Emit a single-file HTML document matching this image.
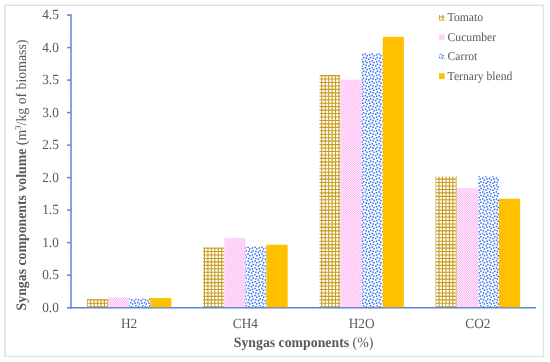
<!DOCTYPE html>
<html lang="en"><head><meta charset="utf-8"><title>Syngas components volume</title>
<style>
html,body{margin:0;padding:0;background:#fff;}
body{width:550px;height:362px;overflow:hidden;}
svg{display:block;}
text{font-family:"Liberation Serif","Times New Roman",serif;fill:#595959;text-rendering:geometricPrecision;}
.tk{font-size:13.3px;}
.lg{font-size:11.65px;}
.tt{font-size:13.8px;}
.b{font-weight:bold;}
</style></head><body>
<svg width="550" height="362" viewBox="0 0 550 362">
<rect x="0" y="0" width="550" height="362" fill="#fff"/>
<g fill="#E3E3E3"><rect x="4.05" y="4.6" width="1.9" height="352.55"/><rect x="4.05" y="4.6" width="539.95" height="1.4" fill="#E0E0E0"/><rect x="542.7" y="4.6" width="1.3" height="352.55"/><rect x="4.05" y="355.8" width="539.95" height="1.35" fill="#E1E1E1"/></g>
<g stroke="#5B86D3" stroke-width="1.5" fill="none">
<line x1="71.0" y1="14.3" x2="71.0" y2="308.45"/>
<line x1="67.0" y1="307.8" x2="536.0" y2="307.8"/>
<line x1="67.0" y1="275.18" x2="71.0" y2="275.18"/>
<line x1="67.0" y1="242.67" x2="71.0" y2="242.67"/>
<line x1="67.0" y1="210.15" x2="71.0" y2="210.15"/>
<line x1="67.0" y1="177.63" x2="71.0" y2="177.63"/>
<line x1="67.0" y1="145.12" x2="71.0" y2="145.12"/>
<line x1="67.0" y1="112.60" x2="71.0" y2="112.60"/>
<line x1="67.0" y1="80.08" x2="71.0" y2="80.08"/>
<line x1="67.0" y1="47.57" x2="71.0" y2="47.57"/>
<line x1="67.0" y1="15.05" x2="71.0" y2="15.05"/>
</g>
<clipPath id="c1"><rect x="86.8" y="299.05" width="21.15" height="8.15"/></clipPath><g clip-path="url(#c1)"><path d="M87.15 299.05v8.15M90.6 299.05v8.15M94.05 299.05v8.15M97.5 299.05v8.15M100.95 299.05v8.15M104.4 299.05v8.15M107.85 299.05v8.15M86.8 299.85h21.15M86.8 303.3h21.15M86.8 306.75h21.15" stroke="#C89C1E" stroke-width="1.08" fill="none"/></g>
<clipPath id="c2"><rect x="107.95" y="297.62" width="21.15" height="9.58"/></clipPath><g clip-path="url(#c2)"><path d="M105.72 297.85H130.1M104.57 299H130.1M105.72 300.15H130.1M104.57 301.3H130.1M105.72 302.45H130.1M104.57 303.6H130.1M105.72 304.75H130.1M104.57 305.9H130.1M105.72 307.05H130.1" stroke="#FFA6F2" stroke-width="1.15" stroke-dasharray="1.15 1.15" fill="none"/></g>
<clipPath id="c3"><rect x="129.1" y="298.6" width="21.15" height="8.6"/></clipPath><g clip-path="url(#c3)"><path d="M128.29 298.94h1.5M135.19 298.94h1.5M142.09 298.94h1.5M148.99 298.94h1.5M130.88 299.8h1.5M137.78 299.8h1.5M144.68 299.8h1.5M133.47 300.67h1.5M140.37 300.67h1.5M147.27 300.67h1.5M130.02 302.39h1.5M136.92 302.39h1.5M143.82 302.39h1.5M134.33 303.25h1.5M141.23 303.25h1.5M148.13 303.25h1.5M131.74 304.12h1.5M138.64 304.12h1.5M145.54 304.12h1.5M128.29 305.84h1.5M135.19 305.84h1.5M142.09 305.84h1.5M148.99 305.84h1.5M130.88 306.7h1.5M137.78 306.7h1.5M144.68 306.7h1.5M133.47 307.57h1.5M140.37 307.57h1.5M147.27 307.57h1.5" stroke="#2E6CF0" stroke-width="1.5" fill="none"/></g>
<rect x="150.25" y="298.01" width="21.15" height="9.19" fill="#FFC000"/>
<clipPath id="c4"><rect x="203.05" y="247.22" width="21.15" height="59.98"/></clipPath><g clip-path="url(#c4)"><path d="M204.45 247.22v59.98M207.9 247.22v59.98M211.35 247.22v59.98M214.8 247.22v59.98M218.25 247.22v59.98M221.7 247.22v59.98M203.05 248.1h21.15M203.05 251.55h21.15M203.05 255h21.15M203.05 258.45h21.15M203.05 261.9h21.15M203.05 265.35h21.15M203.05 268.8h21.15M203.05 272.25h21.15M203.05 275.7h21.15M203.05 279.15h21.15M203.05 282.6h21.15M203.05 286.05h21.15M203.05 289.5h21.15M203.05 292.95h21.15M203.05 296.4h21.15M203.05 299.85h21.15M203.05 303.3h21.15M203.05 306.75h21.15" stroke="#C89C1E" stroke-width="1.08" fill="none"/></g>
<clipPath id="c5"><rect x="224.2" y="238.11" width="21.15" height="69.09"/></clipPath><g clip-path="url(#c5)"><path d="M223.02 238.05H246.35M221.88 239.2H246.35M223.02 240.35H246.35M221.88 241.5H246.35M223.02 242.65H246.35M221.88 243.8H246.35M223.02 244.95H246.35M221.88 246.1H246.35M223.02 247.25H246.35M221.88 248.4H246.35M223.02 249.55H246.35M221.88 250.7H246.35M223.02 251.85H246.35M221.88 253H246.35M223.02 254.15H246.35M221.88 255.3H246.35M223.02 256.45H246.35M221.88 257.6H246.35M223.02 258.75H246.35M221.88 259.9H246.35M223.02 261.05H246.35M221.88 262.2H246.35M223.02 263.35H246.35M221.88 264.5H246.35M223.02 265.65H246.35M221.88 266.8H246.35M223.02 267.95H246.35M221.88 269.1H246.35M223.02 270.25H246.35M221.88 271.4H246.35M223.02 272.55H246.35M221.88 273.7H246.35M223.02 274.85H246.35M221.88 276H246.35M223.02 277.15H246.35M221.88 278.3H246.35M223.02 279.45H246.35M221.88 280.6H246.35M223.02 281.75H246.35M221.88 282.9H246.35M223.02 284.05H246.35M221.88 285.2H246.35M223.02 286.35H246.35M221.88 287.5H246.35M223.02 288.65H246.35M221.88 289.8H246.35M223.02 290.95H246.35M221.88 292.1H246.35M223.02 293.25H246.35M221.88 294.4H246.35M223.02 295.55H246.35M221.88 296.7H246.35M223.02 297.85H246.35M221.88 299H246.35M223.02 300.15H246.35M221.88 301.3H246.35M223.02 302.45H246.35M221.88 303.6H246.35M223.02 304.75H246.35M221.88 305.9H246.35M223.02 307.05H246.35" stroke="#FFA6F2" stroke-width="1.15" stroke-dasharray="1.15 1.15" fill="none"/></g>
<clipPath id="c6"><rect x="245.35" y="246.24" width="21.15" height="60.96"/></clipPath><g clip-path="url(#c6)"><path d="M247.32 247.19h1.5M254.22 247.19h1.5M261.12 247.19h1.5M244.73 248.05h1.5M251.63 248.05h1.5M258.53 248.05h1.5M265.43 248.05h1.5M249.04 248.92h1.5M255.94 248.92h1.5M262.84 248.92h1.5M245.59 250.64h1.5M252.49 250.64h1.5M259.39 250.64h1.5M266.29 250.64h1.5M248.18 251.5h1.5M255.08 251.5h1.5M261.98 251.5h1.5M243.87 252.37h1.5M250.77 252.37h1.5M257.67 252.37h1.5M264.57 252.37h1.5M247.32 254.09h1.5M254.22 254.09h1.5M261.12 254.09h1.5M244.73 254.95h1.5M251.63 254.95h1.5M258.53 254.95h1.5M265.43 254.95h1.5M249.04 255.82h1.5M255.94 255.82h1.5M262.84 255.82h1.5M245.59 257.54h1.5M252.49 257.54h1.5M259.39 257.54h1.5M266.29 257.54h1.5M248.18 258.4h1.5M255.08 258.4h1.5M261.98 258.4h1.5M243.87 259.27h1.5M250.77 259.27h1.5M257.67 259.27h1.5M264.57 259.27h1.5M247.32 260.99h1.5M254.22 260.99h1.5M261.12 260.99h1.5M244.73 261.85h1.5M251.63 261.85h1.5M258.53 261.85h1.5M265.43 261.85h1.5M249.04 262.72h1.5M255.94 262.72h1.5M262.84 262.72h1.5M245.59 264.44h1.5M252.49 264.44h1.5M259.39 264.44h1.5M266.29 264.44h1.5M248.18 265.3h1.5M255.08 265.3h1.5M261.98 265.3h1.5M243.87 266.17h1.5M250.77 266.17h1.5M257.67 266.17h1.5M264.57 266.17h1.5M247.32 267.89h1.5M254.22 267.89h1.5M261.12 267.89h1.5M244.73 268.75h1.5M251.63 268.75h1.5M258.53 268.75h1.5M265.43 268.75h1.5M249.04 269.62h1.5M255.94 269.62h1.5M262.84 269.62h1.5M245.59 271.34h1.5M252.49 271.34h1.5M259.39 271.34h1.5M266.29 271.34h1.5M248.18 272.2h1.5M255.08 272.2h1.5M261.98 272.2h1.5M243.87 273.07h1.5M250.77 273.07h1.5M257.67 273.07h1.5M264.57 273.07h1.5M247.32 274.79h1.5M254.22 274.79h1.5M261.12 274.79h1.5M244.73 275.65h1.5M251.63 275.65h1.5M258.53 275.65h1.5M265.43 275.65h1.5M249.04 276.52h1.5M255.94 276.52h1.5M262.84 276.52h1.5M245.59 278.24h1.5M252.49 278.24h1.5M259.39 278.24h1.5M266.29 278.24h1.5M248.18 279.1h1.5M255.08 279.1h1.5M261.98 279.1h1.5M243.87 279.97h1.5M250.77 279.97h1.5M257.67 279.97h1.5M264.57 279.97h1.5M247.32 281.69h1.5M254.22 281.69h1.5M261.12 281.69h1.5M244.73 282.55h1.5M251.63 282.55h1.5M258.53 282.55h1.5M265.43 282.55h1.5M249.04 283.42h1.5M255.94 283.42h1.5M262.84 283.42h1.5M245.59 285.14h1.5M252.49 285.14h1.5M259.39 285.14h1.5M266.29 285.14h1.5M248.18 286h1.5M255.08 286h1.5M261.98 286h1.5M243.87 286.87h1.5M250.77 286.87h1.5M257.67 286.87h1.5M264.57 286.87h1.5M247.32 288.59h1.5M254.22 288.59h1.5M261.12 288.59h1.5M244.73 289.45h1.5M251.63 289.45h1.5M258.53 289.45h1.5M265.43 289.45h1.5M249.04 290.32h1.5M255.94 290.32h1.5M262.84 290.32h1.5M245.59 292.04h1.5M252.49 292.04h1.5M259.39 292.04h1.5M266.29 292.04h1.5M248.18 292.9h1.5M255.08 292.9h1.5M261.98 292.9h1.5M243.87 293.77h1.5M250.77 293.77h1.5M257.67 293.77h1.5M264.57 293.77h1.5M247.32 295.49h1.5M254.22 295.49h1.5M261.12 295.49h1.5M244.73 296.35h1.5M251.63 296.35h1.5M258.53 296.35h1.5M265.43 296.35h1.5M249.04 297.22h1.5M255.94 297.22h1.5M262.84 297.22h1.5M245.59 298.94h1.5M252.49 298.94h1.5M259.39 298.94h1.5M266.29 298.94h1.5M248.18 299.8h1.5M255.08 299.8h1.5M261.98 299.8h1.5M243.87 300.67h1.5M250.77 300.67h1.5M257.67 300.67h1.5M264.57 300.67h1.5M247.32 302.39h1.5M254.22 302.39h1.5M261.12 302.39h1.5M244.73 303.25h1.5M251.63 303.25h1.5M258.53 303.25h1.5M265.43 303.25h1.5M249.04 304.12h1.5M255.94 304.12h1.5M262.84 304.12h1.5M245.59 305.84h1.5M252.49 305.84h1.5M259.39 305.84h1.5M266.29 305.84h1.5M248.18 306.7h1.5M255.08 306.7h1.5M261.98 306.7h1.5M243.87 307.57h1.5M250.77 307.57h1.5M257.67 307.57h1.5M264.57 307.57h1.5" stroke="#2E6CF0" stroke-width="1.5" fill="none"/></g>
<rect x="266.5" y="244.75" width="21.15" height="62.45" fill="#FFC000"/>
<clipPath id="c7"><rect x="319.3" y="74.88" width="21.15" height="232.32"/></clipPath><g clip-path="url(#c7)"><path d="M321.75 74.88v232.32M325.2 74.88v232.32M328.65 74.88v232.32M332.1 74.88v232.32M335.55 74.88v232.32M339 74.88v232.32M319.3 75.6h21.15M319.3 79.05h21.15M319.3 82.5h21.15M319.3 85.95h21.15M319.3 89.4h21.15M319.3 92.85h21.15M319.3 96.3h21.15M319.3 99.75h21.15M319.3 103.2h21.15M319.3 106.65h21.15M319.3 110.1h21.15M319.3 113.55h21.15M319.3 117h21.15M319.3 120.45h21.15M319.3 123.9h21.15M319.3 127.35h21.15M319.3 130.8h21.15M319.3 134.25h21.15M319.3 137.7h21.15M319.3 141.15h21.15M319.3 144.6h21.15M319.3 148.05h21.15M319.3 151.5h21.15M319.3 154.95h21.15M319.3 158.4h21.15M319.3 161.85h21.15M319.3 165.3h21.15M319.3 168.75h21.15M319.3 172.2h21.15M319.3 175.65h21.15M319.3 179.1h21.15M319.3 182.55h21.15M319.3 186h21.15M319.3 189.45h21.15M319.3 192.9h21.15M319.3 196.35h21.15M319.3 199.8h21.15M319.3 203.25h21.15M319.3 206.7h21.15M319.3 210.15h21.15M319.3 213.6h21.15M319.3 217.05h21.15M319.3 220.5h21.15M319.3 223.95h21.15M319.3 227.4h21.15M319.3 230.85h21.15M319.3 234.3h21.15M319.3 237.75h21.15M319.3 241.2h21.15M319.3 244.65h21.15M319.3 248.1h21.15M319.3 251.55h21.15M319.3 255h21.15M319.3 258.45h21.15M319.3 261.9h21.15M319.3 265.35h21.15M319.3 268.8h21.15M319.3 272.25h21.15M319.3 275.7h21.15M319.3 279.15h21.15M319.3 282.6h21.15M319.3 286.05h21.15M319.3 289.5h21.15M319.3 292.95h21.15M319.3 296.4h21.15M319.3 299.85h21.15M319.3 303.3h21.15M319.3 306.75h21.15" stroke="#C89C1E" stroke-width="1.08" fill="none"/></g>
<clipPath id="c8"><rect x="340.45" y="79.76" width="21.15" height="227.44"/></clipPath><g clip-path="url(#c8)"><path d="M338.02 79.35H362.6M339.17 80.5H362.6M338.02 81.65H362.6M339.17 82.8H362.6M338.02 83.95H362.6M339.17 85.1H362.6M338.02 86.25H362.6M339.17 87.4H362.6M338.02 88.55H362.6M339.17 89.7H362.6M338.02 90.85H362.6M339.17 92H362.6M338.02 93.15H362.6M339.17 94.3H362.6M338.02 95.45H362.6M339.17 96.6H362.6M338.02 97.75H362.6M339.17 98.9H362.6M338.02 100.05H362.6M339.17 101.2H362.6M338.02 102.35H362.6M339.17 103.5H362.6M338.02 104.65H362.6M339.17 105.8H362.6M338.02 106.95H362.6M339.17 108.1H362.6M338.02 109.25H362.6M339.17 110.4H362.6M338.02 111.55H362.6M339.17 112.7H362.6M338.02 113.85H362.6M339.17 115H362.6M338.02 116.15H362.6M339.17 117.3H362.6M338.02 118.45H362.6M339.17 119.6H362.6M338.02 120.75H362.6M339.17 121.9H362.6M338.02 123.05H362.6M339.17 124.2H362.6M338.02 125.35H362.6M339.17 126.5H362.6M338.02 127.65H362.6M339.17 128.8H362.6M338.02 129.95H362.6M339.17 131.1H362.6M338.02 132.25H362.6M339.17 133.4H362.6M338.02 134.55H362.6M339.17 135.7H362.6M338.02 136.85H362.6M339.17 138H362.6M338.02 139.15H362.6M339.17 140.3H362.6M338.02 141.45H362.6M339.17 142.6H362.6M338.02 143.75H362.6M339.17 144.9H362.6M338.02 146.05H362.6M339.17 147.2H362.6M338.02 148.35H362.6M339.17 149.5H362.6M338.02 150.65H362.6M339.17 151.8H362.6M338.02 152.95H362.6M339.17 154.1H362.6M338.02 155.25H362.6M339.17 156.4H362.6M338.02 157.55H362.6M339.17 158.7H362.6M338.02 159.85H362.6M339.17 161H362.6M338.02 162.15H362.6M339.17 163.3H362.6M338.02 164.45H362.6M339.17 165.6H362.6M338.02 166.75H362.6M339.17 167.9H362.6M338.02 169.05H362.6M339.17 170.2H362.6M338.02 171.35H362.6M339.17 172.5H362.6M338.02 173.65H362.6M339.17 174.8H362.6M338.02 175.95H362.6M339.17 177.1H362.6M338.02 178.25H362.6M339.17 179.4H362.6M338.02 180.55H362.6M339.17 181.7H362.6M338.02 182.85H362.6M339.17 184H362.6M338.02 185.15H362.6M339.17 186.3H362.6M338.02 187.45H362.6M339.17 188.6H362.6M338.02 189.75H362.6M339.17 190.9H362.6M338.02 192.05H362.6M339.17 193.2H362.6M338.02 194.35H362.6M339.17 195.5H362.6M338.02 196.65H362.6M339.17 197.8H362.6M338.02 198.95H362.6M339.17 200.1H362.6M338.02 201.25H362.6M339.17 202.4H362.6M338.02 203.55H362.6M339.17 204.7H362.6M338.02 205.85H362.6M339.17 207H362.6M338.02 208.15H362.6M339.17 209.3H362.6M338.02 210.45H362.6M339.17 211.6H362.6M338.02 212.75H362.6M339.17 213.9H362.6M338.02 215.05H362.6M339.17 216.2H362.6M338.02 217.35H362.6M339.17 218.5H362.6M338.02 219.65H362.6M339.17 220.8H362.6M338.02 221.95H362.6M339.17 223.1H362.6M338.02 224.25H362.6M339.17 225.4H362.6M338.02 226.55H362.6M339.17 227.7H362.6M338.02 228.85H362.6M339.17 230H362.6M338.02 231.15H362.6M339.17 232.3H362.6M338.02 233.45H362.6M339.17 234.6H362.6M338.02 235.75H362.6M339.17 236.9H362.6M338.02 238.05H362.6M339.17 239.2H362.6M338.02 240.35H362.6M339.17 241.5H362.6M338.02 242.65H362.6M339.17 243.8H362.6M338.02 244.95H362.6M339.17 246.1H362.6M338.02 247.25H362.6M339.17 248.4H362.6M338.02 249.55H362.6M339.17 250.7H362.6M338.02 251.85H362.6M339.17 253H362.6M338.02 254.15H362.6M339.17 255.3H362.6M338.02 256.45H362.6M339.17 257.6H362.6M338.02 258.75H362.6M339.17 259.9H362.6M338.02 261.05H362.6M339.17 262.2H362.6M338.02 263.35H362.6M339.17 264.5H362.6M338.02 265.65H362.6M339.17 266.8H362.6M338.02 267.95H362.6M339.17 269.1H362.6M338.02 270.25H362.6M339.17 271.4H362.6M338.02 272.55H362.6M339.17 273.7H362.6M338.02 274.85H362.6M339.17 276H362.6M338.02 277.15H362.6M339.17 278.3H362.6M338.02 279.45H362.6M339.17 280.6H362.6M338.02 281.75H362.6M339.17 282.9H362.6M338.02 284.05H362.6M339.17 285.2H362.6M338.02 286.35H362.6M339.17 287.5H362.6M338.02 288.65H362.6M339.17 289.8H362.6M338.02 290.95H362.6M339.17 292.1H362.6M338.02 293.25H362.6M339.17 294.4H362.6M338.02 295.55H362.6M339.17 296.7H362.6M338.02 297.85H362.6M339.17 299H362.6M338.02 300.15H362.6M339.17 301.3H362.6M338.02 302.45H362.6M339.17 303.6H362.6M338.02 304.75H362.6M339.17 305.9H362.6M338.02 307.05H362.6" stroke="#FFA6F2" stroke-width="1.15" stroke-dasharray="1.15 1.15" fill="none"/></g>
<clipPath id="c9"><rect x="361.6" y="53.09" width="21.15" height="254.11"/></clipPath><g clip-path="url(#c9)"><path d="M364.62 53.99h1.5M371.52 53.99h1.5M378.42 53.99h1.5M362.03 54.85h1.5M368.93 54.85h1.5M375.83 54.85h1.5M382.73 54.85h1.5M366.34 55.72h1.5M373.24 55.72h1.5M380.14 55.72h1.5M362.89 57.44h1.5M369.79 57.44h1.5M376.69 57.44h1.5M365.48 58.3h1.5M372.38 58.3h1.5M379.28 58.3h1.5M361.17 59.17h1.5M368.07 59.17h1.5M374.97 59.17h1.5M381.87 59.17h1.5M364.62 60.89h1.5M371.52 60.89h1.5M378.42 60.89h1.5M362.03 61.75h1.5M368.93 61.75h1.5M375.83 61.75h1.5M382.73 61.75h1.5M366.34 62.62h1.5M373.24 62.62h1.5M380.14 62.62h1.5M362.89 64.34h1.5M369.79 64.34h1.5M376.69 64.34h1.5M365.48 65.2h1.5M372.38 65.2h1.5M379.28 65.2h1.5M361.17 66.07h1.5M368.07 66.07h1.5M374.97 66.07h1.5M381.87 66.07h1.5M364.62 67.79h1.5M371.52 67.79h1.5M378.42 67.79h1.5M362.03 68.65h1.5M368.93 68.65h1.5M375.83 68.65h1.5M382.73 68.65h1.5M366.34 69.52h1.5M373.24 69.52h1.5M380.14 69.52h1.5M362.89 71.24h1.5M369.79 71.24h1.5M376.69 71.24h1.5M365.48 72.1h1.5M372.38 72.1h1.5M379.28 72.1h1.5M361.17 72.97h1.5M368.07 72.97h1.5M374.97 72.97h1.5M381.87 72.97h1.5M364.62 74.69h1.5M371.52 74.69h1.5M378.42 74.69h1.5M362.03 75.55h1.5M368.93 75.55h1.5M375.83 75.55h1.5M382.73 75.55h1.5M366.34 76.42h1.5M373.24 76.42h1.5M380.14 76.42h1.5M362.89 78.14h1.5M369.79 78.14h1.5M376.69 78.14h1.5M365.48 79h1.5M372.38 79h1.5M379.28 79h1.5M361.17 79.87h1.5M368.07 79.87h1.5M374.97 79.87h1.5M381.87 79.87h1.5M364.62 81.59h1.5M371.52 81.59h1.5M378.42 81.59h1.5M362.03 82.45h1.5M368.93 82.45h1.5M375.83 82.45h1.5M382.73 82.45h1.5M366.34 83.32h1.5M373.24 83.32h1.5M380.14 83.32h1.5M362.89 85.04h1.5M369.79 85.04h1.5M376.69 85.04h1.5M365.48 85.9h1.5M372.38 85.9h1.5M379.28 85.9h1.5M361.17 86.77h1.5M368.07 86.77h1.5M374.97 86.77h1.5M381.87 86.77h1.5M364.62 88.49h1.5M371.52 88.49h1.5M378.42 88.49h1.5M362.03 89.35h1.5M368.93 89.35h1.5M375.83 89.35h1.5M382.73 89.35h1.5M366.34 90.22h1.5M373.24 90.22h1.5M380.14 90.22h1.5M362.89 91.94h1.5M369.79 91.94h1.5M376.69 91.94h1.5M365.48 92.8h1.5M372.38 92.8h1.5M379.28 92.8h1.5M361.17 93.67h1.5M368.07 93.67h1.5M374.97 93.67h1.5M381.87 93.67h1.5M364.62 95.39h1.5M371.52 95.39h1.5M378.42 95.39h1.5M362.03 96.25h1.5M368.93 96.25h1.5M375.83 96.25h1.5M382.73 96.25h1.5M366.34 97.12h1.5M373.24 97.12h1.5M380.14 97.12h1.5M362.89 98.84h1.5M369.79 98.84h1.5M376.69 98.84h1.5M365.48 99.7h1.5M372.38 99.7h1.5M379.28 99.7h1.5M361.17 100.57h1.5M368.07 100.57h1.5M374.97 100.57h1.5M381.87 100.57h1.5M364.62 102.29h1.5M371.52 102.29h1.5M378.42 102.29h1.5M362.03 103.15h1.5M368.93 103.15h1.5M375.83 103.15h1.5M382.73 103.15h1.5M366.34 104.02h1.5M373.24 104.02h1.5M380.14 104.02h1.5M362.89 105.74h1.5M369.79 105.74h1.5M376.69 105.74h1.5M365.48 106.6h1.5M372.38 106.6h1.5M379.28 106.6h1.5M361.17 107.47h1.5M368.07 107.47h1.5M374.97 107.47h1.5M381.87 107.47h1.5M364.62 109.19h1.5M371.52 109.19h1.5M378.42 109.19h1.5M362.03 110.05h1.5M368.93 110.05h1.5M375.83 110.05h1.5M382.73 110.05h1.5M366.34 110.92h1.5M373.24 110.92h1.5M380.14 110.92h1.5M362.89 112.64h1.5M369.79 112.64h1.5M376.69 112.64h1.5M365.48 113.5h1.5M372.38 113.5h1.5M379.28 113.5h1.5M361.17 114.37h1.5M368.07 114.37h1.5M374.97 114.37h1.5M381.87 114.37h1.5M364.62 116.09h1.5M371.52 116.09h1.5M378.42 116.09h1.5M362.03 116.95h1.5M368.93 116.95h1.5M375.83 116.95h1.5M382.73 116.95h1.5M366.34 117.82h1.5M373.24 117.82h1.5M380.14 117.82h1.5M362.89 119.54h1.5M369.79 119.54h1.5M376.69 119.54h1.5M365.48 120.4h1.5M372.38 120.4h1.5M379.28 120.4h1.5M361.17 121.27h1.5M368.07 121.27h1.5M374.97 121.27h1.5M381.87 121.27h1.5M364.62 122.99h1.5M371.52 122.99h1.5M378.42 122.99h1.5M362.03 123.85h1.5M368.93 123.85h1.5M375.83 123.85h1.5M382.73 123.85h1.5M366.34 124.72h1.5M373.24 124.72h1.5M380.14 124.72h1.5M362.89 126.44h1.5M369.79 126.44h1.5M376.69 126.44h1.5M365.48 127.3h1.5M372.38 127.3h1.5M379.28 127.3h1.5M361.17 128.17h1.5M368.07 128.17h1.5M374.97 128.17h1.5M381.87 128.17h1.5M364.62 129.89h1.5M371.52 129.89h1.5M378.42 129.89h1.5M362.03 130.75h1.5M368.93 130.75h1.5M375.83 130.75h1.5M382.73 130.75h1.5M366.34 131.62h1.5M373.24 131.62h1.5M380.14 131.62h1.5M362.89 133.34h1.5M369.79 133.34h1.5M376.69 133.34h1.5M365.48 134.2h1.5M372.38 134.2h1.5M379.28 134.2h1.5M361.17 135.07h1.5M368.07 135.07h1.5M374.97 135.07h1.5M381.87 135.07h1.5M364.62 136.79h1.5M371.52 136.79h1.5M378.42 136.79h1.5M362.03 137.65h1.5M368.93 137.65h1.5M375.83 137.65h1.5M382.73 137.65h1.5M366.34 138.52h1.5M373.24 138.52h1.5M380.14 138.52h1.5M362.89 140.24h1.5M369.79 140.24h1.5M376.69 140.24h1.5M365.48 141.1h1.5M372.38 141.1h1.5M379.28 141.1h1.5M361.17 141.97h1.5M368.07 141.97h1.5M374.97 141.97h1.5M381.87 141.97h1.5M364.62 143.69h1.5M371.52 143.69h1.5M378.42 143.69h1.5M362.03 144.55h1.5M368.93 144.55h1.5M375.83 144.55h1.5M382.73 144.55h1.5M366.34 145.42h1.5M373.24 145.42h1.5M380.14 145.42h1.5M362.89 147.14h1.5M369.79 147.14h1.5M376.69 147.14h1.5M365.48 148h1.5M372.38 148h1.5M379.28 148h1.5M361.17 148.87h1.5M368.07 148.87h1.5M374.97 148.87h1.5M381.87 148.87h1.5M364.62 150.59h1.5M371.52 150.59h1.5M378.42 150.59h1.5M362.03 151.45h1.5M368.93 151.45h1.5M375.83 151.45h1.5M382.73 151.45h1.5M366.34 152.32h1.5M373.24 152.32h1.5M380.14 152.32h1.5M362.89 154.04h1.5M369.79 154.04h1.5M376.69 154.04h1.5M365.48 154.9h1.5M372.38 154.9h1.5M379.28 154.9h1.5M361.17 155.77h1.5M368.07 155.77h1.5M374.97 155.77h1.5M381.87 155.77h1.5M364.62 157.49h1.5M371.52 157.49h1.5M378.42 157.49h1.5M362.03 158.35h1.5M368.93 158.35h1.5M375.83 158.35h1.5M382.73 158.35h1.5M366.34 159.22h1.5M373.24 159.22h1.5M380.14 159.22h1.5M362.89 160.94h1.5M369.79 160.94h1.5M376.69 160.94h1.5M365.48 161.8h1.5M372.38 161.8h1.5M379.28 161.8h1.5M361.17 162.67h1.5M368.07 162.67h1.5M374.97 162.67h1.5M381.87 162.67h1.5M364.62 164.39h1.5M371.52 164.39h1.5M378.42 164.39h1.5M362.03 165.25h1.5M368.93 165.25h1.5M375.83 165.25h1.5M382.73 165.25h1.5M366.34 166.12h1.5M373.24 166.12h1.5M380.14 166.12h1.5M362.89 167.84h1.5M369.79 167.84h1.5M376.69 167.84h1.5M365.48 168.7h1.5M372.38 168.7h1.5M379.28 168.7h1.5M361.17 169.57h1.5M368.07 169.57h1.5M374.97 169.57h1.5M381.87 169.57h1.5M364.62 171.29h1.5M371.52 171.29h1.5M378.42 171.29h1.5M362.03 172.15h1.5M368.93 172.15h1.5M375.83 172.15h1.5M382.73 172.15h1.5M366.34 173.02h1.5M373.24 173.02h1.5M380.14 173.02h1.5M362.89 174.74h1.5M369.79 174.74h1.5M376.69 174.74h1.5M365.48 175.6h1.5M372.38 175.6h1.5M379.28 175.6h1.5M361.17 176.47h1.5M368.07 176.47h1.5M374.97 176.47h1.5M381.87 176.47h1.5M364.62 178.19h1.5M371.52 178.19h1.5M378.42 178.19h1.5M362.03 179.05h1.5M368.93 179.05h1.5M375.83 179.05h1.5M382.73 179.05h1.5M366.34 179.92h1.5M373.24 179.92h1.5M380.14 179.92h1.5M362.89 181.64h1.5M369.79 181.64h1.5M376.69 181.64h1.5M365.48 182.5h1.5M372.38 182.5h1.5M379.28 182.5h1.5M361.17 183.37h1.5M368.07 183.37h1.5M374.97 183.37h1.5M381.87 183.37h1.5M364.62 185.09h1.5M371.52 185.09h1.5M378.42 185.09h1.5M362.03 185.95h1.5M368.93 185.95h1.5M375.83 185.95h1.5M382.73 185.95h1.5M366.34 186.82h1.5M373.24 186.82h1.5M380.14 186.82h1.5M362.89 188.54h1.5M369.79 188.54h1.5M376.69 188.54h1.5M365.48 189.4h1.5M372.38 189.4h1.5M379.28 189.4h1.5M361.17 190.27h1.5M368.07 190.27h1.5M374.97 190.27h1.5M381.87 190.27h1.5M364.62 191.99h1.5M371.52 191.99h1.5M378.42 191.99h1.5M362.03 192.85h1.5M368.93 192.85h1.5M375.83 192.85h1.5M382.73 192.85h1.5M366.34 193.72h1.5M373.24 193.72h1.5M380.14 193.72h1.5M362.89 195.44h1.5M369.79 195.44h1.5M376.69 195.44h1.5M365.48 196.3h1.5M372.38 196.3h1.5M379.28 196.3h1.5M361.17 197.17h1.5M368.07 197.17h1.5M374.97 197.17h1.5M381.87 197.17h1.5M364.62 198.89h1.5M371.52 198.89h1.5M378.42 198.89h1.5M362.03 199.75h1.5M368.93 199.75h1.5M375.83 199.75h1.5M382.73 199.75h1.5M366.34 200.62h1.5M373.24 200.62h1.5M380.14 200.62h1.5M362.89 202.34h1.5M369.79 202.34h1.5M376.69 202.34h1.5M365.48 203.2h1.5M372.38 203.2h1.5M379.28 203.2h1.5M361.17 204.07h1.5M368.07 204.07h1.5M374.97 204.07h1.5M381.87 204.07h1.5M364.62 205.79h1.5M371.52 205.79h1.5M378.42 205.79h1.5M362.03 206.65h1.5M368.93 206.65h1.5M375.83 206.65h1.5M382.73 206.65h1.5M366.34 207.52h1.5M373.24 207.52h1.5M380.14 207.52h1.5M362.89 209.24h1.5M369.79 209.24h1.5M376.69 209.24h1.5M365.48 210.1h1.5M372.38 210.1h1.5M379.28 210.1h1.5M361.17 210.97h1.5M368.07 210.97h1.5M374.97 210.97h1.5M381.87 210.97h1.5M364.62 212.69h1.5M371.52 212.69h1.5M378.42 212.69h1.5M362.03 213.55h1.5M368.93 213.55h1.5M375.83 213.55h1.5M382.73 213.55h1.5M366.34 214.42h1.5M373.24 214.42h1.5M380.14 214.42h1.5M362.89 216.14h1.5M369.79 216.14h1.5M376.69 216.14h1.5M365.48 217h1.5M372.38 217h1.5M379.28 217h1.5M361.17 217.87h1.5M368.07 217.87h1.5M374.97 217.87h1.5M381.87 217.87h1.5M364.62 219.59h1.5M371.52 219.59h1.5M378.42 219.59h1.5M362.03 220.45h1.5M368.93 220.45h1.5M375.83 220.45h1.5M382.73 220.45h1.5M366.34 221.32h1.5M373.24 221.32h1.5M380.14 221.32h1.5M362.89 223.04h1.5M369.79 223.04h1.5M376.69 223.04h1.5M365.48 223.9h1.5M372.38 223.9h1.5M379.28 223.9h1.5M361.17 224.77h1.5M368.07 224.77h1.5M374.97 224.77h1.5M381.87 224.77h1.5M364.62 226.49h1.5M371.52 226.49h1.5M378.42 226.49h1.5M362.03 227.35h1.5M368.93 227.35h1.5M375.83 227.35h1.5M382.73 227.35h1.5M366.34 228.22h1.5M373.24 228.22h1.5M380.14 228.22h1.5M362.89 229.94h1.5M369.79 229.94h1.5M376.69 229.94h1.5M365.48 230.8h1.5M372.38 230.8h1.5M379.28 230.8h1.5M361.17 231.67h1.5M368.07 231.67h1.5M374.97 231.67h1.5M381.87 231.67h1.5M364.62 233.39h1.5M371.52 233.39h1.5M378.42 233.39h1.5M362.03 234.25h1.5M368.93 234.25h1.5M375.83 234.25h1.5M382.73 234.25h1.5M366.34 235.12h1.5M373.24 235.12h1.5M380.14 235.12h1.5M362.89 236.84h1.5M369.79 236.84h1.5M376.69 236.84h1.5M365.48 237.7h1.5M372.38 237.7h1.5M379.28 237.7h1.5M361.17 238.57h1.5M368.07 238.57h1.5M374.97 238.57h1.5M381.87 238.57h1.5M364.62 240.29h1.5M371.52 240.29h1.5M378.42 240.29h1.5M362.03 241.15h1.5M368.93 241.15h1.5M375.83 241.15h1.5M382.73 241.15h1.5M366.34 242.02h1.5M373.24 242.02h1.5M380.14 242.02h1.5M362.89 243.74h1.5M369.79 243.74h1.5M376.69 243.74h1.5M365.48 244.6h1.5M372.38 244.6h1.5M379.28 244.6h1.5M361.17 245.47h1.5M368.07 245.47h1.5M374.97 245.47h1.5M381.87 245.47h1.5M364.62 247.19h1.5M371.52 247.19h1.5M378.42 247.19h1.5M362.03 248.05h1.5M368.93 248.05h1.5M375.83 248.05h1.5M382.73 248.05h1.5M366.34 248.92h1.5M373.24 248.92h1.5M380.14 248.92h1.5M362.89 250.64h1.5M369.79 250.64h1.5M376.69 250.64h1.5M365.48 251.5h1.5M372.38 251.5h1.5M379.28 251.5h1.5M361.17 252.37h1.5M368.07 252.37h1.5M374.97 252.37h1.5M381.87 252.37h1.5M364.62 254.09h1.5M371.52 254.09h1.5M378.42 254.09h1.5M362.03 254.95h1.5M368.93 254.95h1.5M375.83 254.95h1.5M382.73 254.95h1.5M366.34 255.82h1.5M373.24 255.82h1.5M380.14 255.82h1.5M362.89 257.54h1.5M369.79 257.54h1.5M376.69 257.54h1.5M365.48 258.4h1.5M372.38 258.4h1.5M379.28 258.4h1.5M361.17 259.27h1.5M368.07 259.27h1.5M374.97 259.27h1.5M381.87 259.27h1.5M364.62 260.99h1.5M371.52 260.99h1.5M378.42 260.99h1.5M362.03 261.85h1.5M368.93 261.85h1.5M375.83 261.85h1.5M382.73 261.85h1.5M366.34 262.72h1.5M373.24 262.72h1.5M380.14 262.72h1.5M362.89 264.44h1.5M369.79 264.44h1.5M376.69 264.44h1.5M365.48 265.3h1.5M372.38 265.3h1.5M379.28 265.3h1.5M361.17 266.17h1.5M368.07 266.17h1.5M374.97 266.17h1.5M381.87 266.17h1.5M364.62 267.89h1.5M371.52 267.89h1.5M378.42 267.89h1.5M362.03 268.75h1.5M368.93 268.75h1.5M375.83 268.75h1.5M382.73 268.75h1.5M366.34 269.62h1.5M373.24 269.62h1.5M380.14 269.62h1.5M362.89 271.34h1.5M369.79 271.34h1.5M376.69 271.34h1.5M365.48 272.2h1.5M372.38 272.2h1.5M379.28 272.2h1.5M361.17 273.07h1.5M368.07 273.07h1.5M374.97 273.07h1.5M381.87 273.07h1.5M364.62 274.79h1.5M371.52 274.79h1.5M378.42 274.79h1.5M362.03 275.65h1.5M368.93 275.65h1.5M375.83 275.65h1.5M382.73 275.65h1.5M366.34 276.52h1.5M373.24 276.52h1.5M380.14 276.52h1.5M362.89 278.24h1.5M369.79 278.24h1.5M376.69 278.24h1.5M365.48 279.1h1.5M372.38 279.1h1.5M379.28 279.1h1.5M361.17 279.97h1.5M368.07 279.97h1.5M374.97 279.97h1.5M381.87 279.97h1.5M364.62 281.69h1.5M371.52 281.69h1.5M378.42 281.69h1.5M362.03 282.55h1.5M368.93 282.55h1.5M375.83 282.55h1.5M382.73 282.55h1.5M366.34 283.42h1.5M373.24 283.42h1.5M380.14 283.42h1.5M362.89 285.14h1.5M369.79 285.14h1.5M376.69 285.14h1.5M365.48 286h1.5M372.38 286h1.5M379.28 286h1.5M361.17 286.87h1.5M368.07 286.87h1.5M374.97 286.87h1.5M381.87 286.87h1.5M364.62 288.59h1.5M371.52 288.59h1.5M378.42 288.59h1.5M362.03 289.45h1.5M368.93 289.45h1.5M375.83 289.45h1.5M382.73 289.45h1.5M366.34 290.32h1.5M373.24 290.32h1.5M380.14 290.32h1.5M362.89 292.04h1.5M369.79 292.04h1.5M376.69 292.04h1.5M365.48 292.9h1.5M372.38 292.9h1.5M379.28 292.9h1.5M361.17 293.77h1.5M368.07 293.77h1.5M374.97 293.77h1.5M381.87 293.77h1.5M364.62 295.49h1.5M371.52 295.49h1.5M378.42 295.49h1.5M362.03 296.35h1.5M368.93 296.35h1.5M375.83 296.35h1.5M382.73 296.35h1.5M366.34 297.22h1.5M373.24 297.22h1.5M380.14 297.22h1.5M362.89 298.94h1.5M369.79 298.94h1.5M376.69 298.94h1.5M365.48 299.8h1.5M372.38 299.8h1.5M379.28 299.8h1.5M361.17 300.67h1.5M368.07 300.67h1.5M374.97 300.67h1.5M381.87 300.67h1.5M364.62 302.39h1.5M371.52 302.39h1.5M378.42 302.39h1.5M362.03 303.25h1.5M368.93 303.25h1.5M375.83 303.25h1.5M382.73 303.25h1.5M366.34 304.12h1.5M373.24 304.12h1.5M380.14 304.12h1.5M362.89 305.84h1.5M369.79 305.84h1.5M376.69 305.84h1.5M365.48 306.7h1.5M372.38 306.7h1.5M379.28 306.7h1.5M361.17 307.57h1.5M368.07 307.57h1.5M374.97 307.57h1.5M381.87 307.57h1.5" stroke="#2E6CF0" stroke-width="1.5" fill="none"/></g>
<rect x="382.75" y="36.84" width="21.15" height="270.36" fill="#FFC000"/>
<clipPath id="c10"><rect x="435.55" y="176.2" width="21.15" height="131"/></clipPath><g clip-path="url(#c10)"><path d="M435.6 176.2v131M439.05 176.2v131M442.5 176.2v131M445.95 176.2v131M449.4 176.2v131M452.85 176.2v131M456.3 176.2v131M435.55 179.1h21.15M435.55 182.55h21.15M435.55 186h21.15M435.55 189.45h21.15M435.55 192.9h21.15M435.55 196.35h21.15M435.55 199.8h21.15M435.55 203.25h21.15M435.55 206.7h21.15M435.55 210.15h21.15M435.55 213.6h21.15M435.55 217.05h21.15M435.55 220.5h21.15M435.55 223.95h21.15M435.55 227.4h21.15M435.55 230.85h21.15M435.55 234.3h21.15M435.55 237.75h21.15M435.55 241.2h21.15M435.55 244.65h21.15M435.55 248.1h21.15M435.55 251.55h21.15M435.55 255h21.15M435.55 258.45h21.15M435.55 261.9h21.15M435.55 265.35h21.15M435.55 268.8h21.15M435.55 272.25h21.15M435.55 275.7h21.15M435.55 279.15h21.15M435.55 282.6h21.15M435.55 286.05h21.15M435.55 289.5h21.15M435.55 292.95h21.15M435.55 296.4h21.15M435.55 299.85h21.15M435.55 303.3h21.15M435.55 306.75h21.15" stroke="#C89C1E" stroke-width="1.08" fill="none"/></g>
<clipPath id="c11"><rect x="456.7" y="188.04" width="21.15" height="119.16"/></clipPath><g clip-path="url(#c11)"><path d="M454.17 188.6H478.85M455.32 189.75H478.85M454.17 190.9H478.85M455.32 192.05H478.85M454.17 193.2H478.85M455.32 194.35H478.85M454.17 195.5H478.85M455.32 196.65H478.85M454.17 197.8H478.85M455.32 198.95H478.85M454.17 200.1H478.85M455.32 201.25H478.85M454.17 202.4H478.85M455.32 203.55H478.85M454.17 204.7H478.85M455.32 205.85H478.85M454.17 207H478.85M455.32 208.15H478.85M454.17 209.3H478.85M455.32 210.45H478.85M454.17 211.6H478.85M455.32 212.75H478.85M454.17 213.9H478.85M455.32 215.05H478.85M454.17 216.2H478.85M455.32 217.35H478.85M454.17 218.5H478.85M455.32 219.65H478.85M454.17 220.8H478.85M455.32 221.95H478.85M454.17 223.1H478.85M455.32 224.25H478.85M454.17 225.4H478.85M455.32 226.55H478.85M454.17 227.7H478.85M455.32 228.85H478.85M454.17 230H478.85M455.32 231.15H478.85M454.17 232.3H478.85M455.32 233.45H478.85M454.17 234.6H478.85M455.32 235.75H478.85M454.17 236.9H478.85M455.32 238.05H478.85M454.17 239.2H478.85M455.32 240.35H478.85M454.17 241.5H478.85M455.32 242.65H478.85M454.17 243.8H478.85M455.32 244.95H478.85M454.17 246.1H478.85M455.32 247.25H478.85M454.17 248.4H478.85M455.32 249.55H478.85M454.17 250.7H478.85M455.32 251.85H478.85M454.17 253H478.85M455.32 254.15H478.85M454.17 255.3H478.85M455.32 256.45H478.85M454.17 257.6H478.85M455.32 258.75H478.85M454.17 259.9H478.85M455.32 261.05H478.85M454.17 262.2H478.85M455.32 263.35H478.85M454.17 264.5H478.85M455.32 265.65H478.85M454.17 266.8H478.85M455.32 267.95H478.85M454.17 269.1H478.85M455.32 270.25H478.85M454.17 271.4H478.85M455.32 272.55H478.85M454.17 273.7H478.85M455.32 274.85H478.85M454.17 276H478.85M455.32 277.15H478.85M454.17 278.3H478.85M455.32 279.45H478.85M454.17 280.6H478.85M455.32 281.75H478.85M454.17 282.9H478.85M455.32 284.05H478.85M454.17 285.2H478.85M455.32 286.35H478.85M454.17 287.5H478.85M455.32 288.65H478.85M454.17 289.8H478.85M455.32 290.95H478.85M454.17 292.1H478.85M455.32 293.25H478.85M454.17 294.4H478.85M455.32 295.55H478.85M454.17 296.7H478.85M455.32 297.85H478.85M454.17 299H478.85M455.32 300.15H478.85M454.17 301.3H478.85M455.32 302.45H478.85M454.17 303.6H478.85M455.32 304.75H478.85M454.17 305.9H478.85M455.32 307.05H478.85" stroke="#FFA6F2" stroke-width="1.15" stroke-dasharray="1.15 1.15" fill="none"/></g>
<clipPath id="c12"><rect x="477.85" y="176.33" width="21.15" height="130.87"/></clipPath><g clip-path="url(#c12)"><path d="M482.78 175.6h1.5M489.68 175.6h1.5M496.58 175.6h1.5M478.47 176.47h1.5M485.37 176.47h1.5M492.27 176.47h1.5M481.92 178.19h1.5M488.82 178.19h1.5M495.72 178.19h1.5M479.33 179.05h1.5M486.23 179.05h1.5M493.13 179.05h1.5M476.74 179.92h1.5M483.64 179.92h1.5M490.54 179.92h1.5M497.44 179.92h1.5M480.19 181.64h1.5M487.09 181.64h1.5M493.99 181.64h1.5M482.78 182.5h1.5M489.68 182.5h1.5M496.58 182.5h1.5M478.47 183.37h1.5M485.37 183.37h1.5M492.27 183.37h1.5M481.92 185.09h1.5M488.82 185.09h1.5M495.72 185.09h1.5M479.33 185.95h1.5M486.23 185.95h1.5M493.13 185.95h1.5M476.74 186.82h1.5M483.64 186.82h1.5M490.54 186.82h1.5M497.44 186.82h1.5M480.19 188.54h1.5M487.09 188.54h1.5M493.99 188.54h1.5M482.78 189.4h1.5M489.68 189.4h1.5M496.58 189.4h1.5M478.47 190.27h1.5M485.37 190.27h1.5M492.27 190.27h1.5M481.92 191.99h1.5M488.82 191.99h1.5M495.72 191.99h1.5M479.33 192.85h1.5M486.23 192.85h1.5M493.13 192.85h1.5M476.74 193.72h1.5M483.64 193.72h1.5M490.54 193.72h1.5M497.44 193.72h1.5M480.19 195.44h1.5M487.09 195.44h1.5M493.99 195.44h1.5M482.78 196.3h1.5M489.68 196.3h1.5M496.58 196.3h1.5M478.47 197.17h1.5M485.37 197.17h1.5M492.27 197.17h1.5M481.92 198.89h1.5M488.82 198.89h1.5M495.72 198.89h1.5M479.33 199.75h1.5M486.23 199.75h1.5M493.13 199.75h1.5M476.74 200.62h1.5M483.64 200.62h1.5M490.54 200.62h1.5M497.44 200.62h1.5M480.19 202.34h1.5M487.09 202.34h1.5M493.99 202.34h1.5M482.78 203.2h1.5M489.68 203.2h1.5M496.58 203.2h1.5M478.47 204.07h1.5M485.37 204.07h1.5M492.27 204.07h1.5M481.92 205.79h1.5M488.82 205.79h1.5M495.72 205.79h1.5M479.33 206.65h1.5M486.23 206.65h1.5M493.13 206.65h1.5M476.74 207.52h1.5M483.64 207.52h1.5M490.54 207.52h1.5M497.44 207.52h1.5M480.19 209.24h1.5M487.09 209.24h1.5M493.99 209.24h1.5M482.78 210.1h1.5M489.68 210.1h1.5M496.58 210.1h1.5M478.47 210.97h1.5M485.37 210.97h1.5M492.27 210.97h1.5M481.92 212.69h1.5M488.82 212.69h1.5M495.72 212.69h1.5M479.33 213.55h1.5M486.23 213.55h1.5M493.13 213.55h1.5M476.74 214.42h1.5M483.64 214.42h1.5M490.54 214.42h1.5M497.44 214.42h1.5M480.19 216.14h1.5M487.09 216.14h1.5M493.99 216.14h1.5M482.78 217h1.5M489.68 217h1.5M496.58 217h1.5M478.47 217.87h1.5M485.37 217.87h1.5M492.27 217.87h1.5M481.92 219.59h1.5M488.82 219.59h1.5M495.72 219.59h1.5M479.33 220.45h1.5M486.23 220.45h1.5M493.13 220.45h1.5M476.74 221.32h1.5M483.64 221.32h1.5M490.54 221.32h1.5M497.44 221.32h1.5M480.19 223.04h1.5M487.09 223.04h1.5M493.99 223.04h1.5M482.78 223.9h1.5M489.68 223.9h1.5M496.58 223.9h1.5M478.47 224.77h1.5M485.37 224.77h1.5M492.27 224.77h1.5M481.92 226.49h1.5M488.82 226.49h1.5M495.72 226.49h1.5M479.33 227.35h1.5M486.23 227.35h1.5M493.13 227.35h1.5M476.74 228.22h1.5M483.64 228.22h1.5M490.54 228.22h1.5M497.44 228.22h1.5M480.19 229.94h1.5M487.09 229.94h1.5M493.99 229.94h1.5M482.78 230.8h1.5M489.68 230.8h1.5M496.58 230.8h1.5M478.47 231.67h1.5M485.37 231.67h1.5M492.27 231.67h1.5M481.92 233.39h1.5M488.82 233.39h1.5M495.72 233.39h1.5M479.33 234.25h1.5M486.23 234.25h1.5M493.13 234.25h1.5M476.74 235.12h1.5M483.64 235.12h1.5M490.54 235.12h1.5M497.44 235.12h1.5M480.19 236.84h1.5M487.09 236.84h1.5M493.99 236.84h1.5M482.78 237.7h1.5M489.68 237.7h1.5M496.58 237.7h1.5M478.47 238.57h1.5M485.37 238.57h1.5M492.27 238.57h1.5M481.92 240.29h1.5M488.82 240.29h1.5M495.72 240.29h1.5M479.33 241.15h1.5M486.23 241.15h1.5M493.13 241.15h1.5M476.74 242.02h1.5M483.64 242.02h1.5M490.54 242.02h1.5M497.44 242.02h1.5M480.19 243.74h1.5M487.09 243.74h1.5M493.99 243.74h1.5M482.78 244.6h1.5M489.68 244.6h1.5M496.58 244.6h1.5M478.47 245.47h1.5M485.37 245.47h1.5M492.27 245.47h1.5M481.92 247.19h1.5M488.82 247.19h1.5M495.72 247.19h1.5M479.33 248.05h1.5M486.23 248.05h1.5M493.13 248.05h1.5M476.74 248.92h1.5M483.64 248.92h1.5M490.54 248.92h1.5M497.44 248.92h1.5M480.19 250.64h1.5M487.09 250.64h1.5M493.99 250.64h1.5M482.78 251.5h1.5M489.68 251.5h1.5M496.58 251.5h1.5M478.47 252.37h1.5M485.37 252.37h1.5M492.27 252.37h1.5M481.92 254.09h1.5M488.82 254.09h1.5M495.72 254.09h1.5M479.33 254.95h1.5M486.23 254.95h1.5M493.13 254.95h1.5M476.74 255.82h1.5M483.64 255.82h1.5M490.54 255.82h1.5M497.44 255.82h1.5M480.19 257.54h1.5M487.09 257.54h1.5M493.99 257.54h1.5M482.78 258.4h1.5M489.68 258.4h1.5M496.58 258.4h1.5M478.47 259.27h1.5M485.37 259.27h1.5M492.27 259.27h1.5M481.92 260.99h1.5M488.82 260.99h1.5M495.72 260.99h1.5M479.33 261.85h1.5M486.23 261.85h1.5M493.13 261.85h1.5M476.74 262.72h1.5M483.64 262.72h1.5M490.54 262.72h1.5M497.44 262.72h1.5M480.19 264.44h1.5M487.09 264.44h1.5M493.99 264.44h1.5M482.78 265.3h1.5M489.68 265.3h1.5M496.58 265.3h1.5M478.47 266.17h1.5M485.37 266.17h1.5M492.27 266.17h1.5M481.92 267.89h1.5M488.82 267.89h1.5M495.72 267.89h1.5M479.33 268.75h1.5M486.23 268.75h1.5M493.13 268.75h1.5M476.74 269.62h1.5M483.64 269.62h1.5M490.54 269.62h1.5M497.44 269.62h1.5M480.19 271.34h1.5M487.09 271.34h1.5M493.99 271.34h1.5M482.78 272.2h1.5M489.68 272.2h1.5M496.58 272.2h1.5M478.47 273.07h1.5M485.37 273.07h1.5M492.27 273.07h1.5M481.92 274.79h1.5M488.82 274.79h1.5M495.72 274.79h1.5M479.33 275.65h1.5M486.23 275.65h1.5M493.13 275.65h1.5M476.74 276.52h1.5M483.64 276.52h1.5M490.54 276.52h1.5M497.44 276.52h1.5M480.19 278.24h1.5M487.09 278.24h1.5M493.99 278.24h1.5M482.78 279.1h1.5M489.68 279.1h1.5M496.58 279.1h1.5M478.47 279.97h1.5M485.37 279.97h1.5M492.27 279.97h1.5M481.92 281.69h1.5M488.82 281.69h1.5M495.72 281.69h1.5M479.33 282.55h1.5M486.23 282.55h1.5M493.13 282.55h1.5M476.74 283.42h1.5M483.64 283.42h1.5M490.54 283.42h1.5M497.44 283.42h1.5M480.19 285.14h1.5M487.09 285.14h1.5M493.99 285.14h1.5M482.78 286h1.5M489.68 286h1.5M496.58 286h1.5M478.47 286.87h1.5M485.37 286.87h1.5M492.27 286.87h1.5M481.92 288.59h1.5M488.82 288.59h1.5M495.72 288.59h1.5M479.33 289.45h1.5M486.23 289.45h1.5M493.13 289.45h1.5M476.74 290.32h1.5M483.64 290.32h1.5M490.54 290.32h1.5M497.44 290.32h1.5M480.19 292.04h1.5M487.09 292.04h1.5M493.99 292.04h1.5M482.78 292.9h1.5M489.68 292.9h1.5M496.58 292.9h1.5M478.47 293.77h1.5M485.37 293.77h1.5M492.27 293.77h1.5M481.92 295.49h1.5M488.82 295.49h1.5M495.72 295.49h1.5M479.33 296.35h1.5M486.23 296.35h1.5M493.13 296.35h1.5M476.74 297.22h1.5M483.64 297.22h1.5M490.54 297.22h1.5M497.44 297.22h1.5M480.19 298.94h1.5M487.09 298.94h1.5M493.99 298.94h1.5M482.78 299.8h1.5M489.68 299.8h1.5M496.58 299.8h1.5M478.47 300.67h1.5M485.37 300.67h1.5M492.27 300.67h1.5M481.92 302.39h1.5M488.82 302.39h1.5M495.72 302.39h1.5M479.33 303.25h1.5M486.23 303.25h1.5M493.13 303.25h1.5M476.74 304.12h1.5M483.64 304.12h1.5M490.54 304.12h1.5M497.44 304.12h1.5M480.19 305.84h1.5M487.09 305.84h1.5M493.99 305.84h1.5M482.78 306.7h1.5M489.68 306.7h1.5M496.58 306.7h1.5M478.47 307.57h1.5M485.37 307.57h1.5M492.27 307.57h1.5" stroke="#2E6CF0" stroke-width="1.5" fill="none"/></g>
<rect x="499" y="198.77" width="21.15" height="108.43" fill="#FFC000"/>
<text class="tk" transform="translate(58.8,311.90) scale(1,1.05)" text-anchor="end">0.0</text>
<text class="tk" transform="translate(58.8,279.38) scale(1,1.05)" text-anchor="end">0.5</text>
<text class="tk" transform="translate(58.8,246.87) scale(1,1.05)" text-anchor="end">1.0</text>
<text class="tk" transform="translate(58.8,214.35) scale(1,1.05)" text-anchor="end">1.5</text>
<text class="tk" transform="translate(58.8,181.83) scale(1,1.05)" text-anchor="end">2.0</text>
<text class="tk" transform="translate(58.8,149.32) scale(1,1.05)" text-anchor="end">2.5</text>
<text class="tk" transform="translate(58.8,116.80) scale(1,1.05)" text-anchor="end">3.0</text>
<text class="tk" transform="translate(58.8,84.28) scale(1,1.05)" text-anchor="end">3.5</text>
<text class="tk" transform="translate(58.8,51.77) scale(1,1.05)" text-anchor="end">4.0</text>
<text class="tk" transform="translate(58.8,19.25) scale(1,1.05)" text-anchor="end">4.5</text>
<text class="tk" transform="translate(129.12,328.4) scale(1,1.05)" text-anchor="middle">H2</text>
<text class="tk" transform="translate(245.38,328.4) scale(1,1.05)" text-anchor="middle">CH4</text>
<text class="tk" transform="translate(361.62,328.4) scale(1,1.05)" text-anchor="middle">H2O</text>
<text class="tk" transform="translate(477.88,328.4) scale(1,1.05)" text-anchor="middle">CO2</text>
<text class="tt" transform="translate(303.5,347.2) scale(1,1.05)" text-anchor="middle"><tspan class="b">Syngas components</tspan> (%)</text>
<text class="tt" transform="translate(26,175) rotate(-90) scale(1,1.05)" text-anchor="middle"><tspan class="b">Syngas components volume</tspan> (m<tspan font-size="8.8" dy="-5.2">3</tspan><tspan dy="5.2">/kg of biomass)</tspan></text>
<clipPath id="c13"><rect x="439.05" y="14.7" width="5.65" height="5.75"/></clipPath><g clip-path="url(#c13)"><path d="M439.35 14.7v5.75M442.8 14.7v5.75M439.05 16.95h5.65M439.05 20.4h5.65" stroke="#C89C1E" stroke-width="1.08" fill="none"/></g>
<text class="lg" transform="translate(447.6,21.05) scale(1,1.05)">Tomato</text>
<clipPath id="c14"><rect x="439.05" y="34.25" width="5.65" height="5.75"/></clipPath><g clip-path="url(#c14)"><path d="M435.77 34.5H445.7M436.92 35.65H445.7M435.77 36.8H445.7M436.92 37.95H445.7M435.77 39.1H445.7M436.92 40.25H445.7" stroke="#FFA6F2" stroke-width="1.15" stroke-dasharray="1.15 1.15" fill="none"/></g>
<text class="lg" transform="translate(447.6,40.60) scale(1,1.05)">Cucumber</text>
<clipPath id="c15"><rect x="439.05" y="53.8" width="5.65" height="5.75"/></clipPath><g clip-path="url(#c15)"><path d="M440.52 53.99h1.5M437.93 54.85h1.5M442.24 55.72h1.5M438.79 57.44h1.5M441.38 58.3h1.5M443.97 59.17h1.5" stroke="#2E6CF0" stroke-width="1.5" fill="none"/></g>
<text class="lg" transform="translate(447.6,60.15) scale(1,1.05)">Carrot</text>
<rect x="439.05" y="73.35" width="5.65" height="5.75" fill="#FFC000"/>
<text class="lg" transform="translate(447.6,79.70) scale(1,1.05)">Ternary blend</text>
</svg>
</body></html>
